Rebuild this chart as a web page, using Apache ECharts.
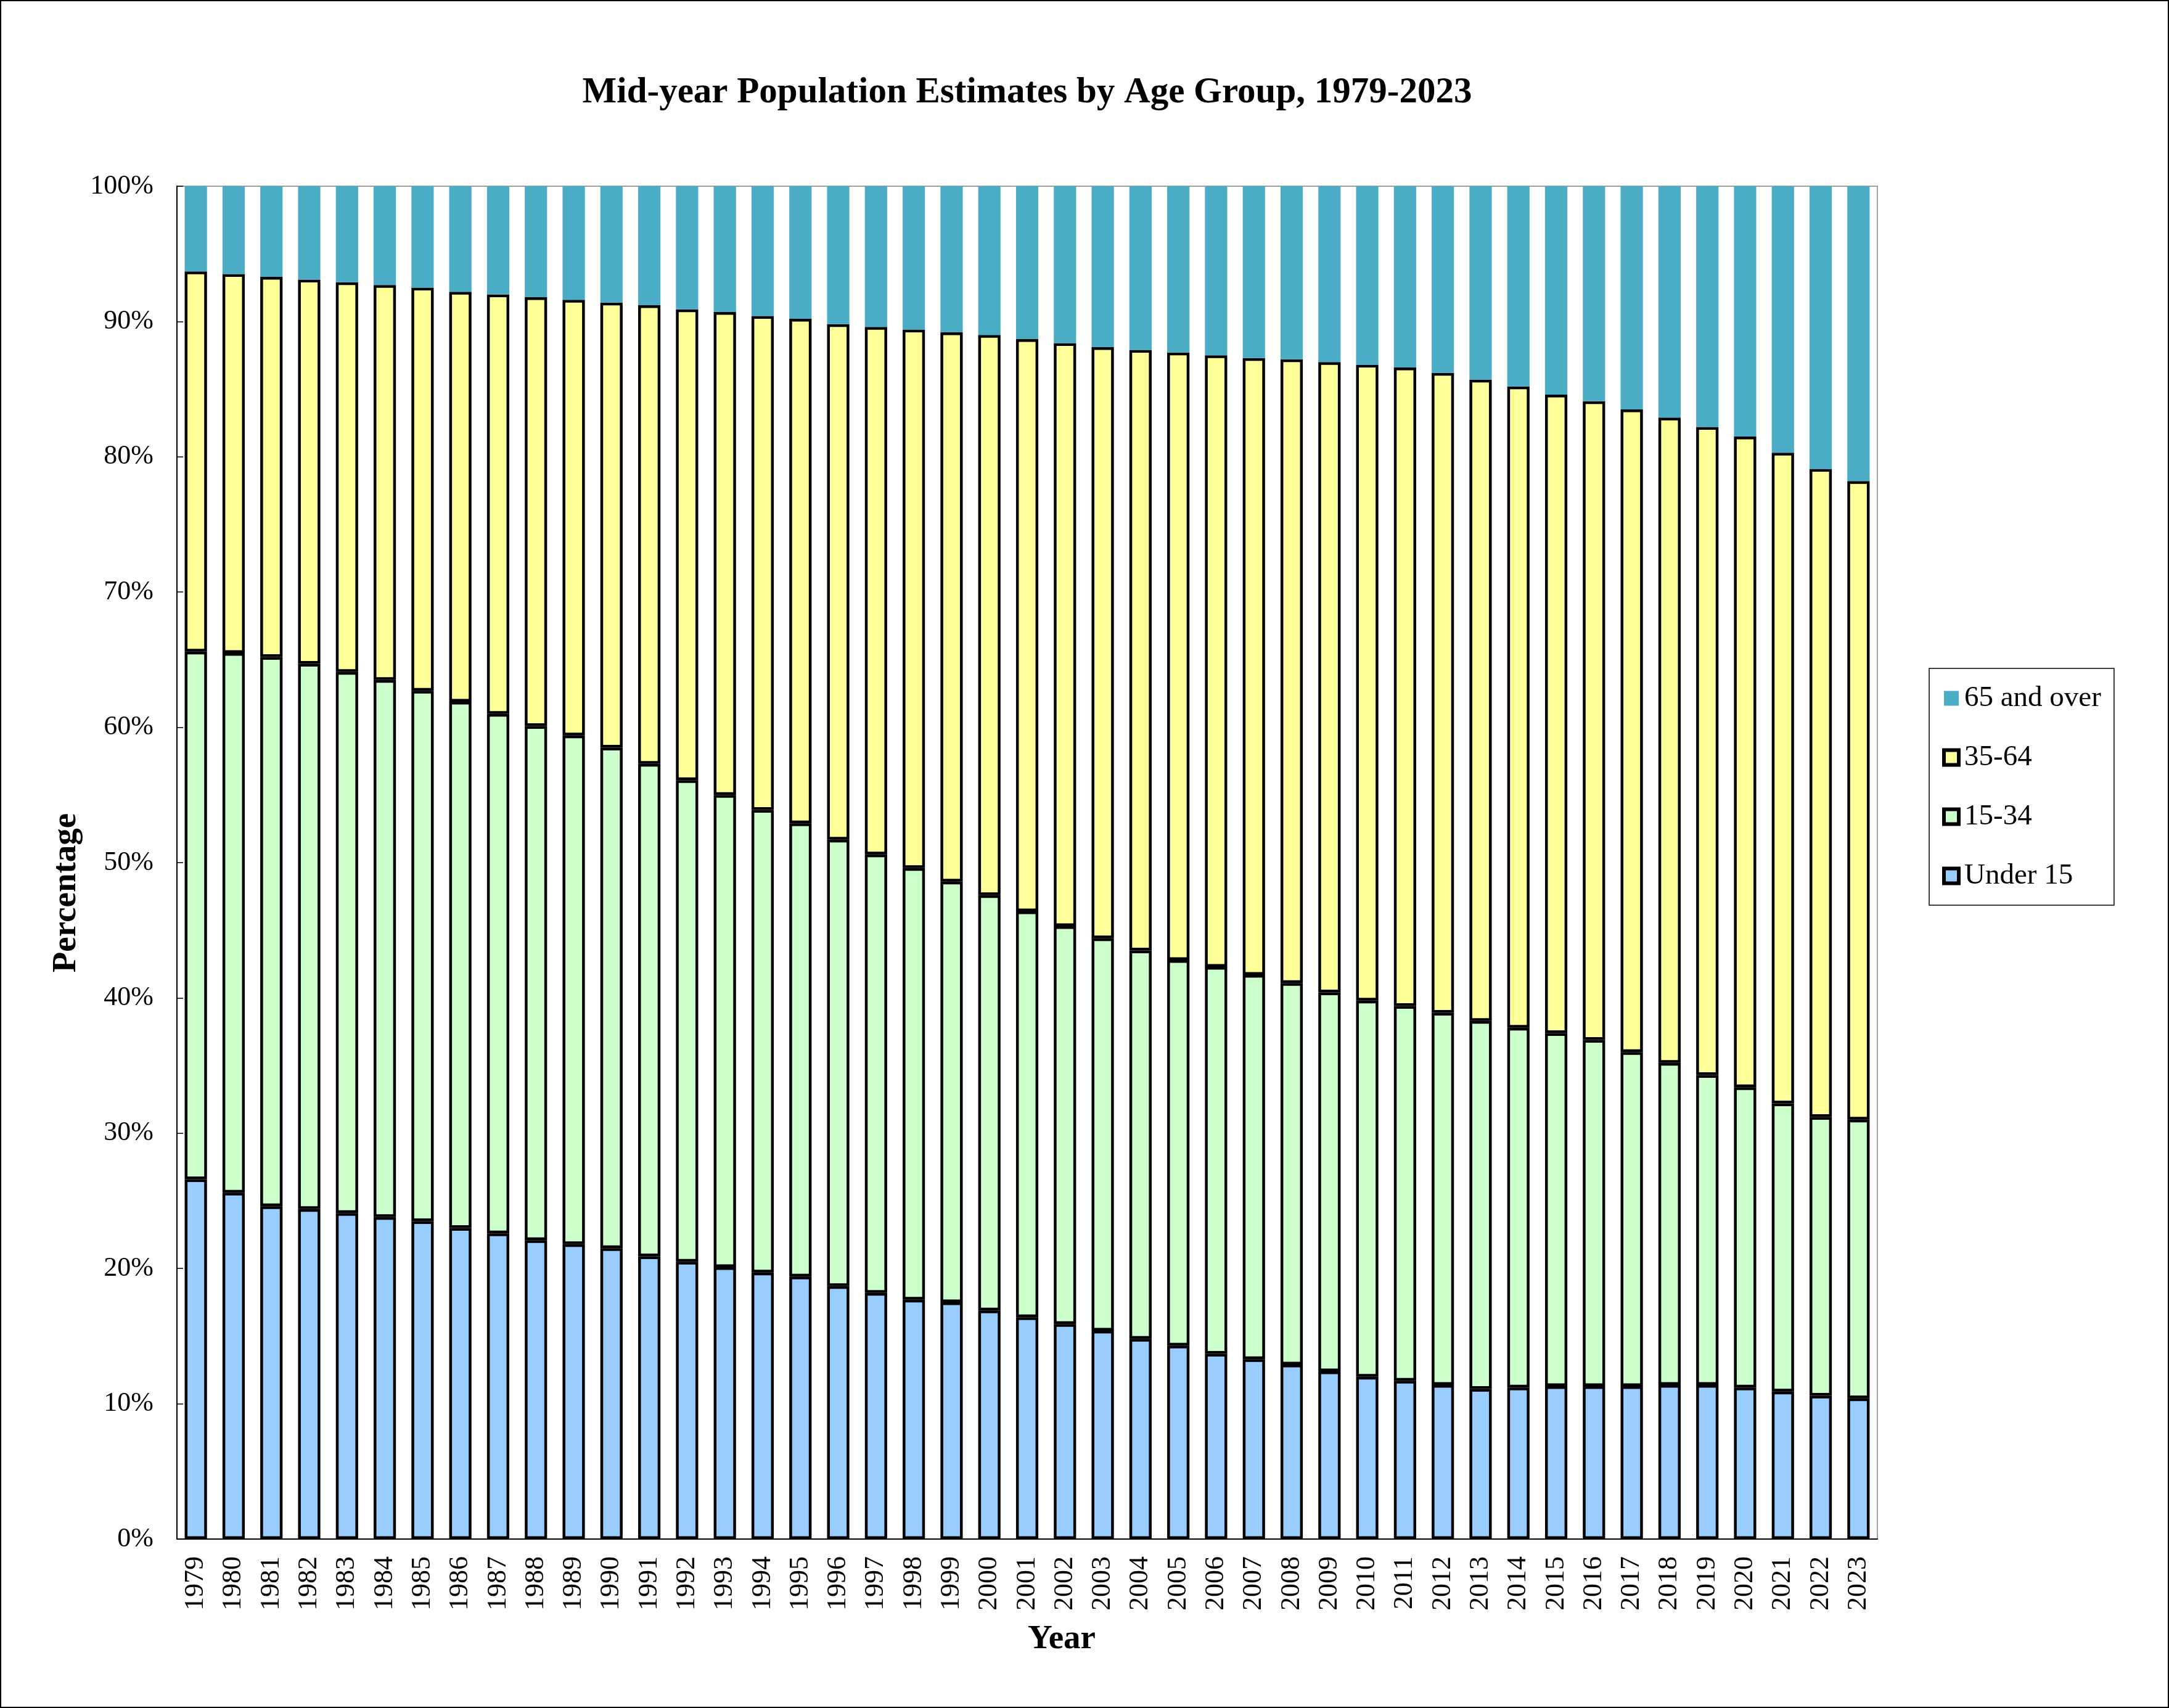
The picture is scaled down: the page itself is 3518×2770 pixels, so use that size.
<!DOCTYPE html>
<html>
<head>
<meta charset="utf-8">
<script src="https://cdn.jsdelivr.net/npm/echarts/dist/echarts.min.js"></script>
<style>
  html, body { margin: 0; padding: 0; background: #fff; }
  #main { width: 3518px; height: 2770px; }
</style>
</head>
<body>
<div id="main"></div>
<script>
var years = ['1979','1980','1981','1982','1983','1984','1985','1986','1987','1988',
  '1989','1990','1991','1992','1993','1994','1995','1996','1997','1998',
  '1999','2000','2001','2002','2003','2004','2005','2006','2007','2008',
  '2009','2010','2011','2012','2013','2014','2015','2016','2017','2018',
  '2019','2020','2021','2022','2023'];

// percentages, bottom segment first
var under15 = [26.6, 25.6, 24.6, 24.4, 24.1, 23.8, 23.5, 23.0, 22.6, 22.1,
  21.8, 21.5, 20.9, 20.5, 20.1, 19.7, 19.4, 18.7, 18.2, 17.7,
  17.5, 16.9, 16.4, 15.9, 15.4, 14.8, 14.3, 13.7, 13.3, 12.9,
  12.4, 12.0, 11.7, 11.4, 11.1, 11.2, 11.3, 11.3, 11.3, 11.4,
  11.4, 11.2, 10.9, 10.6, 10.4];
var age15to34 = [39.0, 39.9, 40.6, 40.3, 40.0, 39.7, 39.2, 38.9, 38.4, 38.0,
  37.6, 37.0, 36.4, 35.6, 34.9, 34.2, 33.5, 33.0, 32.4, 31.9,
  31.1, 30.7, 30.0, 29.4, 29.0, 28.7, 28.5, 28.6, 28.4, 28.2,
  28.0, 27.8, 27.7, 27.5, 27.2, 26.6, 26.1, 25.6, 24.7, 23.8,
  22.9, 22.2, 21.3, 20.6, 20.6];
var age35to64 = [28.1, 28.0, 28.1, 28.4, 28.8, 29.2, 29.8, 30.3, 31.0, 31.7,
  32.2, 32.9, 33.9, 34.8, 35.7, 36.5, 37.3, 38.1, 39.0, 39.8,
  40.6, 41.4, 42.3, 43.1, 43.7, 44.4, 44.9, 45.2, 45.6, 46.1,
  46.6, 47.0, 47.2, 47.3, 47.4, 47.4, 47.2, 47.2, 47.5, 47.7,
  47.9, 48.1, 48.1, 47.9, 47.2];
var age65plus = [6.3, 6.5, 6.7, 6.9, 7.1, 7.3, 7.5, 7.8, 8.0, 8.2,
  8.4, 8.6, 8.8, 9.1, 9.3, 9.6, 9.8, 10.2, 10.4, 10.6,
  10.8, 11.0, 11.3, 11.6, 11.9, 12.1, 12.3, 12.5, 12.7, 12.8,
  13.0, 13.2, 13.4, 13.8, 14.3, 14.8, 15.4, 15.9, 16.5, 17.1,
  17.8, 18.5, 19.7, 20.9, 21.8];

var serif = "'Liberation Serif', 'Times New Roman', serif";

var myChart = echarts.init(document.getElementById('main'), null, { renderer: 'canvas' });

function barSeries(name, data, color, bordered) {
  return {
    name: name,
    type: 'bar',
    stack: 'pct',
    data: data,
    barCategoryGap: '41%',
    itemStyle: {
      color: color,
      borderColor: '#000',
      borderWidth: bordered ? 4.5 : 0
    }
  };
}

var option = {
  animation: false,
  backgroundColor: '#fff',
  title: {
    text: 'Mid-year Population Estimates by Age Group, 1979-2023',
    left: 1666,
    top: 121,
    padding: 0,
    textAlign: 'center',
    textStyle: { fontFamily: serif, fontSize: 59, fontWeight: 'bold', color: '#000' }
  },
  legend: {
    orient: 'vertical',
    left: 3129,
    top: 1084,
    padding: [25, 21, 24, 21],
    itemGap: 49,
    itemWidth: 24,
    itemHeight: 24,
    borderColor: '#000',
    borderWidth: 1.5,
    icon: 'rect',
    data: [
      { name: '65 and over', itemStyle: { borderWidth: 0 } },
      { name: '35-64', itemStyle: { borderColor: '#000', borderWidth: 6 } },
      { name: '15-34', itemStyle: { borderColor: '#000', borderWidth: 6 } },
      { name: 'Under 15', itemStyle: { borderColor: '#000', borderWidth: 6 } }
    ],
    textStyle: { fontFamily: serif, fontSize: 47, color: '#000', padding: [0, 0, 0, 4] }
  },
  grid: {
    left: 287,
    right: 473,
    top: 302,
    bottom: 274,
    show: true,
    borderColor: '#a0a0a0',
    borderWidth: 2,
    containLabel: false,
    outerBoundsMode: 'none'
  },
  xAxis: {
    type: 'category',
    data: years,
    name: 'Year',
    nameLocation: 'middle',
    nameGap: 135,
    nameTextStyle: { fontFamily: serif, fontSize: 55, fontWeight: 'bold', color: '#000', padding: [0, 0, 0, 112] },
    axisLine: { lineStyle: { color: '#000', width: 2 } },
    axisTick: { inside: true, length: 13, interval: 0, lineStyle: { color: '#000', width: 1.5 } },
    axisLabel: { rotate: 90, interval: 0, margin: 28, fontFamily: serif, fontSize: 44, color: '#000' },
    splitLine: { show: false }
  },
  yAxis: {
    type: 'value',
    min: 0,
    max: 100,
    interval: 10,
    name: 'Percentage',
    nameLocation: 'middle',
    nameGap: 150,
    nameRotate: 90,
    nameTextStyle: { fontFamily: serif, fontSize: 55, fontWeight: 'bold', color: '#000', padding: [0, 98, 0, 0] },
    axisLine: { show: true, lineStyle: { color: '#000', width: 2 } },
    axisTick: { show: true, inside: true, length: 10, lineStyle: { color: '#000', width: 1.5 } },
    axisLabel: { formatter: '{value}%', margin: 38, fontFamily: serif, fontSize: 44, color: '#000' },
    splitLine: { show: false }
  },
  graphic: [{
    type: 'rect',
    shape: { x: 1, y: 1, width: 3516, height: 2768 },
    style: { fill: 'none', stroke: '#000', lineWidth: 2 },
    silent: true
  }],
  series: [
    barSeries('Under 15', under15, '#99CCFF', true),
    barSeries('15-34', age15to34, '#CCFFCC', true),
    barSeries('35-64', age35to64, '#FFFF99', true),
    barSeries('65 and over', age65plus, '#4BACC6', false)
  ]
};

myChart.setOption(option);
</script>
</body>
</html>
